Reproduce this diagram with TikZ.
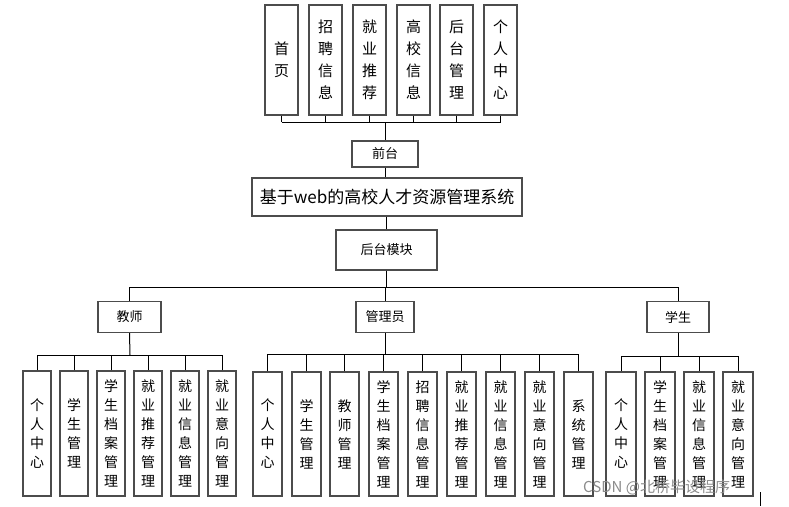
\documentclass[tikz,border=0pt]{standalone}
\usepackage{fontspec}
\setmainfont{Noto Sans CJK SC}
\begin{document}
\begin{tikzpicture}[x=1pt,y=-1pt,
  bx/.style={draw=black!70,line width=1.4pt,fill=white,inner sep=0pt,align=center,font=\fontsize{14}{19}\selectfont},
  ln/.style={draw=black,line width=1pt}]
\useasboundingbox (0,0) rectangle (789,506);
% top boxes
\foreach \n/\x/\t in {a/265/首\\页, b/309/招\\聘\\信\\息, c/353/就\\业\\推\\荐, d/397/高\\校\\信\\息, e/440/后\\台\\管\\理, f/484/个\\人\\中\\心}{
  \node[bx,minimum width=33pt,minimum height=110pt,font=\fontsize{15}{22}\selectfont] (\n) at (\x+16.5,60) {\t};
}
\node[bx,minimum width=66pt,minimum height=26pt,font=\fontsize{13}{15}\selectfont] (qt) at (385,154) {前台};
\node[bx,minimum width=270pt,minimum height=38pt,font=\fontsize{17}{20}\selectfont] (title) at (387,197) {基于web的高校人才资源管理系统};
\node[bx,minimum width=101pt,minimum height=40pt,font=\fontsize{13}{15}\selectfont] (ht) at (386.5,250) {后台模块};
\coordinate (tb) at (385,122);
\foreach \n in {a,b,c,d,e,f}{ \draw[ln] (\n.south) -- (\n.south|-tb); }
\draw[ln] (a.south|-tb) -- (f.south|-tb);
\draw[ln] (tb) -- (qt.north);
\draw[ln] (qt.south) -- (qt.south|-title.north);
\draw[ln] (title.south-|ht) -- (ht.north);
% second level
\node[bx,minimum width=63pt,minimum height=31pt,font=\fontsize{13}{15}\selectfont] (js) at (129.5,317) {教师};
\node[bx,minimum width=58pt,minimum height=31pt,font=\fontsize{13}{15}\selectfont] (gl) at (385,317) {管理员};
\node[bx,minimum width=62pt,minimum height=31pt,font=\fontsize{13}{15}\selectfont] (xs) at (678,317) {学生};
\coordinate (mb) at (386.5,287);
\draw[ln] (ht.south) -- (mb);
\draw[ln] (js.north|-mb) -- (xs.north|-mb);
\foreach \n in {js,gl,xs}{ \draw[ln] (\n.north|-mb) -- (\n.north); }
% teacher children
\foreach \n/\x/\t in {t1/23/个\\人\\中\\心, t2/60/学\\生\\管\\理, t3/97/学\\生\\档\\案\\管\\理, t4/134/就\\业\\推\\荐\\管\\理, t5/171/就\\业\\信\\息\\管\\理, t6/208/就\\业\\意\\向\\管\\理}{
  \node[bx,minimum width=28pt,minimum height=125pt] (\n) at (\x+14,433.5) {\t};
}
% admin children
\foreach \n/\x/\t in {g1/253/个\\人\\中\\心, g2/292/学\\生\\管\\理, g3/330/教\\师\\管\\理, g4/369/学\\生\\档\\案\\管\\理, g5/408/招\\聘\\信\\息\\管\\理, g6/447/就\\业\\推\\荐\\管\\理, g7/486/就\\业\\信\\息\\管\\理, g8/525/就\\业\\意\\向\\管\\理, g9/564/系\\统\\管\\理}{
  \node[bx,minimum width=29pt,minimum height=124pt] (\n) at (\x+14.5,434) {\t};
}
% student children
\foreach \n/\x/\t in {s1/606/个\\人\\中\\心, s2/645/学\\生\\档\\案\\管\\理, s3/684/就\\业\\信\\息\\管\\理, s4/723/就\\业\\意\\向\\管\\理}{
  \node[bx,minimum width=30pt,minimum height=124pt] (\n) at (\x+15,434) {\t};
}
\coordinate (tbus) at (130,355);
\coordinate (gbus) at (385,354);
\coordinate (sbus) at (678,356);
\draw[ln] (t1.north|-tbus) -- (t6.north|-tbus);
\draw[ln] (js.south) -- (tbus);
\draw[ln] (g1.north|-gbus) -- (g9.north|-gbus);
\draw[ln] (gl.south) -- (gbus);
\draw[ln] (s1.north|-sbus) -- (s4.north|-sbus);
\draw[ln] (xs.south) -- (sbus);
\foreach \n in {t1,t2,t3,t4,t5,t6}{\draw[ln] (\n.north) -- (\n.north|-tbus);}
\foreach \n in {g1,g2,g3,g4,g5,g6,g7,g8,g9}{\draw[ln] (\n.north) -- (\n.north|-gbus);}
\foreach \n in {s1,s2,s3,s4}{\draw[ln] (\n.north) -- (\n.north|-sbus);}
\coordinate (e1) at (760,492); \coordinate (e2) at (760,506);
\draw[ln] (e1) -- (e2);
\node[text=black!45,font=\fontsize{15}{15}\selectfont,anchor=west,inner sep=0pt] (wm) at (583,487) {CSDN @北桥毕设程序};
\end{tikzpicture}
\end{document}
